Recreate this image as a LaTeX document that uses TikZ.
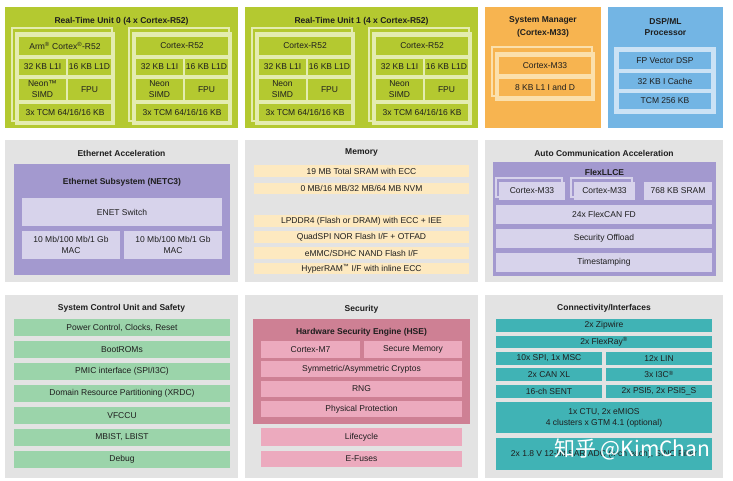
\documentclass[tikz,border=0pt]{standalone}
\usepackage{fontspec}
\setmainfont{Liberation Sans}
\newfontfamily\cjkfont{Noto Sans CJK SC}
\definecolor{txtc}{RGB}{30,30,30}
\definecolor{gG}{RGB}{180,201,48}
\definecolor{gL}{RGB}{228,236,176}
\definecolor{oG}{RGB}{247,180,80}
\definecolor{oL}{RGB}{251,224,172}
\definecolor{bG}{RGB}{115,181,228}
\definecolor{bL}{RGB}{203,226,245}
\definecolor{grayP}{RGB}{227,227,227}
\definecolor{pG}{RGB}{163,153,207}
\definecolor{pL}{RGB}{215,211,235}
\definecolor{peach}{RGB}{253,233,192}
\definecolor{mint}{RGB}{155,212,170}
\definecolor{roseP}{RGB}{206,128,148}
\definecolor{roseC}{RGB}{236,170,190}
\definecolor{tealC}{RGB}{64,179,181}
\newcommand{\myfs}{\fontsize{8.5}{11}\selectfont}
\newcommand{\bk}[7]{\node[#2,minimum width={((#5)-(#3))*1pt},minimum height={((#6)-(#4))*1pt}] (#1) at ({((#3)+(#5))/2},{((#4)+(#6))/2}) {#7};}
\tikzset{
 base/.style={rectangle,inner sep=0pt,outer sep=0pt,draw=none,align=center,font=\myfs,text=txtc},
 ttl/.style={inner sep=0pt,align=center,font=\myfs\bfseries,text=txtc},
 gpanel/.style={base,fill=gG},
 gback/.style={base,fill=gG,draw=gL,line width=1.2pt},
 gcard/.style={base,fill=gL},
 gcell/.style={base,fill=gG},
 opanel/.style={base,fill=oG},
 oback/.style={base,fill=oG,draw=oL,line width=1.2pt},
 ocard/.style={base,fill=oL},
 ocell/.style={base,fill=oG},
 bpanel/.style={base,fill=bG},
 bcard/.style={base,fill=bL},
 bcell/.style={base,fill=bG},
 gpan/.style={base,fill=grayP},
 ppanel/.style={base,fill=pG},
 pback/.style={base,fill=pG,draw=pL,line width=1.2pt},
 pcell/.style={base,fill=pL},
 mcell/.style={base,fill=peach},
 scell/.style={base,fill=mint},
 rpanel/.style={base,fill=roseP},
 rcell/.style={base,fill=roseC},
 tcell/.style={base,fill=tealC},
}
\newcommand{\core}[4]{%
 \bk{#1back}{gback}{12+#2}{28}{112+#2}{121}{}
 \bk{#1card}{gcard}{15+#2}{32}{115+#2}{125}{}
 \bk{#1cpu}{gcell}{19+#2}{37}{111+#2}{55}{#3}
 \bk{#1li}{gcell}{19+#2}{59}{66+#2}{75}{32 KB L1I}
 \bk{#1ld}{gcell}{68+#2}{59}{111+#2}{75}{16 KB L1D}
 \bk{#1neon}{gcell}{19+#2}{79}{66+#2}{100}{#4}
 \bk{#1fpu}{gcell}{68+#2}{79}{111+#2}{100}{FPU}
 \bk{#1tcm}{gcell}{19+#2}{104}{111+#2}{121}{3x TCM 64/16/16 KB}
}
\begin{document}
\begin{tikzpicture}[x=1pt,y=-1pt]
\fill[white] (0,0) rectangle (733,481);
\useasboundingbox (0,0) rectangle (733,481);
% ---------- top row ----------
\bk{rtu0}{gpanel}{5}{7}{238}{128}{}
\node[ttl] (rtu0t) at (121.5,21) {Real-Time Unit 0 (4 x Cortex-R52)};
\core{ra}{0}{Arm\textsuperscript{®} Cortex\textsuperscript{®}-R52}{Neon™\\SIMD}
\core{rb}{117}{Cortex-R52}{Neon\\SIMD}
\bk{rtu1}{gpanel}{245}{7}{478}{128}{}
\node[ttl] (rtu1t) at (361.5,21) {Real-Time Unit 1 (4 x Cortex-R52)};
\core{rc}{240}{Cortex-R52}{Neon\\SIMD}
\core{rd}{357}{Cortex-R52}{Neon\\SIMD}
\bk{sm}{opanel}{485}{7}{601}{128}{}
\node[ttl,font=\fontsize{8.5}{12.5}\selectfont\bfseries] (smt) at (543,27) {System Manager\\(Cortex-M33)};
\bk{smback}{oback}{492}{47}{592}{96}{}
\bk{smcard}{ocard}{495}{52}{595}{101}{}
\bk{smcpu}{ocell}{499}{57}{591}{74}{Cortex-M33}
\bk{smmem}{ocell}{499}{79}{591}{96}{8 KB L1 I and D}
\bk{dsp}{bpanel}{608}{7}{723}{128}{}
\node[ttl,font=\fontsize{8.5}{10.5}\selectfont\bfseries] (dspt) at (665.5,27) {DSP/ML\\Processor};
\bk{dspcard}{bcard}{614}{47}{716}{114}{}
\bk{dspv}{bcell}{619}{52}{711}{69}{FP Vector DSP}
\bk{dspc}{bcell}{619}{73}{711}{89}{32 KB I Cache}
\bk{dspt2}{bcell}{619}{93}{711}{109}{TCM 256 KB}
% ---------- middle row ----------
\bk{eth}{gpan}{5}{140}{238}{282}{}
\node[ttl] (etht) at (121.5,153) {Ethernet Acceleration};
\bk{netc}{ppanel}{14}{164}{230}{275}{}
\node[ttl] (netct) at (122,182) {Ethernet Subsystem (NETC3)};
\bk{enet}{pcell}{22}{198}{222}{226}{ENET Switch}
\bk{mac1}{pcell}{22}{231}{120}{259}{10 Mb/100 Mb/1 Gb\\MAC}
\bk{mac2}{pcell}{124}{231}{222}{259}{10 Mb/100 Mb/1 Gb\\MAC}
\bk{mem}{gpan}{245}{140}{478}{282}{}
\node[ttl] (memt) at (361.5,152) {Memory};
\bk{m1}{mcell}{254}{165}{469}{177}{19 MB Total SRAM with ECC}
\bk{m2}{mcell}{254}{183}{469}{194}{0 MB/16 MB/32 MB/64 MB NVM}
\bk{m3}{mcell}{254}{215}{469}{227}{LPDDR4 (Flash or DRAM) with ECC + IEE}
\bk{m4}{mcell}{254}{231}{469}{243}{QuadSPI NOR Flash I/F + OTFAD}
\bk{m5}{mcell}{254}{247}{469}{259}{eMMC/SDHC NAND Flash I/F}
\bk{m6}{mcell}{254}{263}{469}{274}{HyperRAM\textsuperscript{™} I/F with inline ECC}
\bk{aca}{gpan}{485}{140}{723}{282}{}
\node[ttl] (acat) at (604,153) {Auto Communication Acceleration};
\bk{llce}{ppanel}{493}{162}{716}{276}{}
\node[ttl] (llcet) at (604.5,172) {FlexLLCE};
\bk{lb1}{pback}{496}{178}{562}{197}{}
\bk{lc1}{pcell}{499}{182}{565}{200}{Cortex-M33}
\bk{lb2}{pback}{571}{178}{632}{197}{}
\bk{lc2}{pcell}{574}{182}{635}{200}{Cortex-M33}
\bk{lsram}{pcell}{644}{182}{712}{200}{768 KB SRAM}
\bk{lcan}{pcell}{496}{205}{712}{224}{24x FlexCAN FD}
\bk{lsec}{pcell}{496}{229}{712}{248}{Security Offload}
\bk{lts}{pcell}{496}{253}{712}{272}{Timestamping}
% ---------- bottom row ----------
\bk{scu}{gpan}{5}{295}{238}{478}{}
\node[ttl] (scut) at (121.5,308) {System Control Unit and Safety};
\bk{s1}{scell}{14}{319}{230}{336}{Power Control, Clocks, Reset}
\bk{s2}{scell}{14}{341}{230}{358}{BootROMs}
\bk{s3}{scell}{14}{363}{230}{380}{PMIC interface (SPI/I3C)}
\bk{s4}{scell}{14}{385}{230}{402}{Domain Resource Partitioning (XRDC)}
\bk{s5}{scell}{14}{407}{230}{424}{VFCCU}
\bk{s6}{scell}{14}{429}{230}{446}{MBIST, LBIST}
\bk{s7}{scell}{14}{451}{230}{468}{Debug}
\bk{sec}{gpan}{245}{295}{478}{478}{}
\node[ttl] (sect) at (361.5,309) {Security};
\bk{hse}{rpanel}{253}{319}{470}{424}{}
\node[ttl] (hset) at (361.5,332) {Hardware Security Engine (HSE)};
\bk{h1}{rcell}{261}{341}{360}{358}{Cortex-M7}
\bk{h2}{rcell}{364}{341}{462}{358}{Secure Memory}
\bk{h3}{rcell}{261}{361}{462}{377}{Symmetric/Asymmetric Cryptos}
\bk{h4}{rcell}{261}{381}{462}{397}{RNG}
\bk{h5}{rcell}{261}{401}{462}{417}{Physical Protection}
\bk{h6}{rcell}{261}{428}{462}{446}{Lifecycle}
\bk{h7}{rcell}{261}{451}{462}{467}{E-Fuses}
\bk{con}{gpan}{485}{295}{723}{478}{}
\node[ttl] (cont) at (604,308) {Connectivity/Interfaces};
\bk{c1}{tcell}{496}{319}{712}{332}{2x Zipwire}
\bk{c2}{tcell}{496}{336}{712}{348}{2x FlexRay\textsuperscript{®}}
\bk{c3}{tcell}{496}{352}{602}{365}{10x SPI, 1x MSC}
\bk{c4}{tcell}{606}{352}{712}{365}{12x LIN}
\bk{c5}{tcell}{496}{368}{602}{381}{2x CAN XL}
\bk{c6}{tcell}{606}{368}{712}{381}{3x I3C\textsuperscript{®}}
\bk{c7}{tcell}{496}{385}{602}{398}{16-ch SENT}
\bk{c8}{tcell}{606}{385}{712}{398}{2x PSI5, 2x PSI5\_S}
\bk{c9}{tcell}{496}{402}{712}{433}{1x CTU, 2x eMIOS\\4 clusters x GTM 4.1 (optional)}
\bk{c10}{tcell}{496}{438}{712}{470}{2x 1.8 V 12-bit SAR ADC (x-ch each), SINC Filter}
% watermark
\node[font=\cjkfont\fontsize{21}{21}\selectfont,text=white] (wm) at (632.3,449) {知乎 @KimChan};
\end{tikzpicture}
\end{document}
